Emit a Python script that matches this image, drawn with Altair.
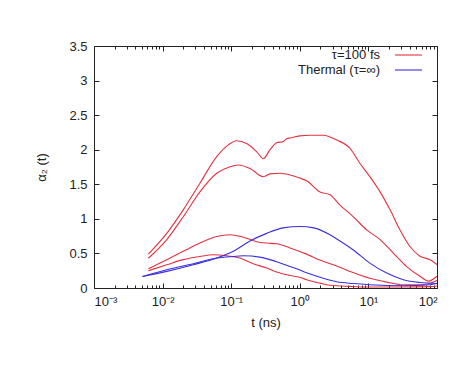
import altair as alt
import pandas as pd

# ---- data (t in ns, alpha_2) ----
r1_t = [0.0062, 0.0115, 0.020, 0.035, 0.0615, 0.091, 0.120, 0.168, 0.236, 0.294, 0.368, 0.46, 0.574, 0.644, 0.72, 1.0, 1.41, 2.2, 3.45, 5.4, 7.55, 10.5, 14.8, 20.7, 28.9, 40.4, 56.5, 79.1, 100]
r1_a = [0.49, 0.79, 1.13, 1.515, 1.90, 2.07, 2.13, 2.09, 1.97, 1.87, 2.0, 2.10, 2.12, 2.16, 2.17, 2.20, 2.21, 2.21, 2.14, 2.02, 1.80, 1.61, 1.39, 1.13, 0.84, 0.60, 0.46, 0.41, 0.34]

r2_t = [0.0062, 0.0115, 0.020, 0.035, 0.0615, 0.096, 0.127, 0.188, 0.294, 0.368, 0.514, 0.72, 1.0, 1.26, 1.97, 2.75, 3.85, 6.03, 9.44, 14.8, 23.1, 36.1, 56.5, 75.0, 100]
r2_a = [0.43, 0.70, 1.03, 1.39, 1.66, 1.755, 1.78, 1.73, 1.61, 1.65, 1.66, 1.635, 1.59, 1.55, 1.39, 1.35, 1.20, 1.03, 0.84, 0.70, 0.505, 0.31, 0.17, 0.10, 0.17]

r3_t = [0.0062, 0.0115, 0.020, 0.035, 0.0615, 0.096, 0.150, 0.236, 0.33, 0.46, 0.72, 1.26, 2.0, 3.6, 5.7, 10.5, 18.5, 32.3, 56.5, 79.0, 100]
r3_a = [0.28, 0.41, 0.53, 0.65, 0.745, 0.77, 0.735, 0.67, 0.65, 0.64, 0.58, 0.49, 0.40, 0.31, 0.23, 0.14, 0.085, 0.045, 0.045, 0.07, 0.11]

r4_t = [0.0062, 0.0115, 0.020, 0.035, 0.0548, 0.0859, 0.134, 0.21, 0.33, 0.46, 0.72, 1.0, 1.26, 1.97, 2.75, 5.4, 10.5, 32.3, 79.0, 100]
r4_a = [0.25, 0.336, 0.41, 0.456, 0.48, 0.466, 0.433, 0.35, 0.29, 0.23, 0.18, 0.155, 0.12, 0.07, 0.04, 0.023, 0.014, 0.014, 0.02, 0.03]

b1_t = [0.0051, 0.0115, 0.028, 0.0615, 0.107, 0.188, 0.33, 0.574, 1.0, 1.6, 2.75, 3.85, 6.03, 10.5, 18.5, 32.3, 56.5, 100]
b1_a = [0.167, 0.24, 0.336, 0.433, 0.53, 0.68, 0.79, 0.87, 0.89, 0.87, 0.77, 0.68, 0.55, 0.36, 0.216, 0.12, 0.08, 0.065]

b2_t = [0.0051, 0.0115, 0.028, 0.0615, 0.107, 0.15, 0.26, 0.46, 0.72, 1.0, 1.26, 1.97, 3.45, 6.03, 10.5, 32.3, 79.0, 100]
b2_a = [0.167, 0.264, 0.35, 0.433, 0.456, 0.466, 0.447, 0.38, 0.31, 0.26, 0.22, 0.155, 0.09, 0.065, 0.048, 0.033, 0.048, 0.07]

legend_labels = ["τ=100 fs", "Thermal (τ=∞)"]
colors = ["#e3323f", "#3a2fe0"]

curves = [
    ("r1", legend_labels[0], r1_t, r1_a),
    ("r2", legend_labels[0], r2_t, r2_a),
    ("r3", legend_labels[0], r3_t, r3_a),
    ("r4", legend_labels[0], r4_t, r4_a),
    ("b1", legend_labels[1], b1_t, b1_a),
    ("b2", legend_labels[1], b2_t, b2_a),
]
rows = []
for name, kind, ts, vals in curves:
    for t, v in zip(ts, vals):
        rows.append({"curve": name, "kind": kind, "t": t, "a": v})
df = pd.DataFrame(rows)

x_major = [0.001, 0.01, 0.1, 1, 10, 100]
x_minor = [m * 10.0 ** e for e in range(-3, 2) for m in range(2, 10)]
y_major = [0, 0.5, 1, 1.5, 2, 2.5, 3, 3.5]

W, H = 343, 242
FONT = "Liberation Sans"
INK = "#222222"

xscale = alt.Scale(type="log", domain=[0.001, 100], nice=False)
yscale = alt.Scale(domain=[0, 3.5], nice=False, zero=False)

label_expr = ("datum.value < 0.005 ? '10⁻³' : datum.value < 0.05 ? '10⁻²' : "
              "datum.value < 0.5 ? '10⁻¹' : datum.value < 5 ? '10⁰' : "
              "datum.value < 50 ? '10¹' : '10²'")

lines = alt.Chart(df).mark_line(strokeWidth=1.1, interpolate="monotone").encode(
    x=alt.X("t:Q", scale=xscale,
            axis=alt.Axis(orient="bottom", values=x_major, labelExpr=label_expr,
                          ticks=False, domain=False, grid=False, title="t (ns)",
                          labelPadding=7, titlePadding=8)),
    y=alt.Y("a:Q", scale=yscale,
            axis=alt.Axis(orient="left", values=y_major, format="~g",
                          ticks=False, domain=False, grid=False, title="α₂ (t)",
                          labelPadding=7, titlePadding=20)),
    color=alt.Color("kind:N", scale=alt.Scale(domain=legend_labels, range=colors),
                    legend=None),
    detail="curve:N",
)

tick_df = pd.DataFrame({"t": [1.0], "a": [1.0]})


def tick_axis(orient, vals, size):
    return alt.Axis(orient=orient, values=vals, labels=False, domain=False, grid=False,
                    ticks=True, tickSize=size, offset=-size, tickColor=INK, title=None)


def tick_layer(xo, yo, xvals, yvals, size):
    yaxis = tick_axis(yo, yvals, size) if yvals else None
    return alt.Chart(tick_df).mark_point(opacity=0).encode(
        x=alt.X("t:Q", scale=xscale, axis=tick_axis(xo, xvals, size)),
        y=alt.Y("a:Q", scale=yscale, axis=yaxis),
    )


# key (gnuplot style: label on the left, line sample on the right)
legend_layers = []
for i, (lab, col) in enumerate(zip(legend_labels, colors)):
    kdf = pd.DataFrame({"kind": [lab]})
    yy = 9 + 15 * i
    legend_layers.append(
        alt.Chart(kdf).mark_text(align="right", baseline="middle", font=FONT,
                                 fontSize=13, color=INK).encode(
            x=alt.value(286), y=alt.value(yy), text="kind:N"))
    legend_layers.append(
        alt.Chart(kdf).mark_rule(strokeWidth=1.1, color=col).encode(
            x=alt.value(301), x2=alt.value(328), y=alt.value(yy)))

chart = alt.layer(
    lines,
    tick_layer("bottom", "left", x_major, y_major, 5),
    tick_layer("top", "right", x_major, y_major, 5),
    tick_layer("bottom", "left", x_minor, None, 3),
    tick_layer("top", "right", x_minor, None, 3),
    *legend_layers,
).resolve_axis(x="independent", y="independent").properties(
    width=W, height=H,
    autosize=alt.AutoSizeParams(type="none"),
    padding={"left": 86, "top": 38, "right": 29, "bottom": 70},
).configure_view(stroke=INK, strokeWidth=1).configure_axis(
    labelFont=FONT, labelFontSize=13, labelColor=INK,
    titleFont=FONT, titleFontSize=13, titleFontWeight="normal", titleColor=INK,
)

chart.save("out.html", embed_options={"renderer": "svg", "actions": False})
